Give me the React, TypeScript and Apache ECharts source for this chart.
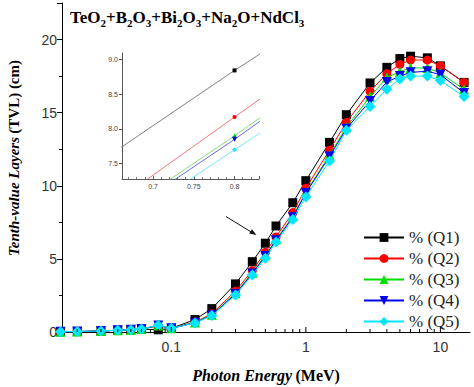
import React, { useEffect, useRef } from "react";
import * as echarts from "echarts";

const energies = [0.015, 0.02, 0.03, 0.04, 0.05, 0.06, 0.08, 0.1, 0.15, 0.2, 0.3, 0.4, 0.5, 0.6, 0.8, 1, 1.5, 2, 3, 4, 5, 6, 8, 10, 15];
const q1 = [0.02, 0.03, 0.07, 0.12, 0.15, 0.2, 0.15, 0.25, 0.85, 1.6, 3.29, 4.81, 6.07, 7.25, 8.84, 10.35, 12.97, 14.86, 17.03, 18.1, 18.7, 18.86, 18.75, 18.2, 17.07];
const q2 = [0.02, 0.03, 0.07, 0.12, 0.15, 0.2, 0.42, 0.25, 0.68, 1.25, 2.8, 4.2, 5.45, 6.5, 8.17, 9.83, 12.44, 14.34, 16.46, 17.67, 18.3, 18.6, 18.6, 18.2, 17.07];
const q3 = [0.02, 0.03, 0.07, 0.12, 0.15, 0.2, 0.44, 0.25, 0.65, 1.18, 2.65, 4.05, 5.25, 6.32, 7.9, 9.56, 12.1, 14.0, 16.1, 17.4, 17.8, 18.06, 18.06, 17.7, 16.6];
const q4 = [0.02, 0.03, 0.07, 0.12, 0.15, 0.2, 0.45, 0.25, 0.63, 1.15, 2.6, 4.0, 5.2, 6.27, 7.85, 9.51, 12.0, 13.9, 15.8, 17.1, 17.5, 17.76, 17.83, 17.6, 16.35];
const q5 = [0.02, 0.03, 0.07, 0.12, 0.15, 0.2, 0.47, 0.25, 0.62, 1.12, 2.53, 3.9, 5.05, 6.15, 7.7, 9.24, 11.7, 13.8, 15.43, 16.6, 17.3, 17.5, 17.5, 17.2, 16.1];

const seriesNames = ["% (Q1)", "% (Q2)", "% (Q3)", "% (Q4)", "% (Q5)"];
const seriesValues = [q1, q2, q3, q4, q5];
const seriesColors = ["#000000", "#ff0000", "#00dd00", "#0000ee", "#00e6ff"];
const insetColors = ["#808080", "#f07878", "#80e080", "#6a6ae6", "#7ae6f6"];
const insetMarkerColors = ["#000000", "#ff0000", "#00dd00", "#0000ee", "#33ddee"];
const symbols = ["rect", "circle", "triangle", "path://M0,0 L10,0 L5,9 Z", "diamond"];
const symbolSizes = [9, 9, 10, 10, 11];
const insetSymbolSizes = [4, 4, 5, 5, 5];

const xMajorTicks = [0.1, 1, 10];
const xMinorTicks = [0.02, 0.03, 0.04, 0.05, 0.06, 0.07, 0.08, 0.09, 0.2, 0.3, 0.4, 0.5, 0.6, 0.7, 0.8, 0.9, 2, 3, 4, 5, 6, 7, 8, 9];

const SERIF = "Liberation Serif";
const SANS = "Liberation Sans";

export default function App() {
  const ref = useRef<HTMLDivElement>(null);
  useEffect(() => {
    document.body.style.margin = "0";
    const chart = echarts.init(ref.current!, null, { renderer: "svg" });

    const mainSeries: any[] = seriesNames.map((name, i) => ({
      name,
      type: "line",
      xAxisIndex: 0,
      yAxisIndex: 0,
      data: energies.map((e, j) => [e, seriesValues[i][j]]),
      symbol: symbols[i],
      symbolSize: symbolSizes[i],
      showAllSymbol: true,
      clip: false,
      lineStyle: { color: seriesColors[i], width: 1 },
      itemStyle: { color: seriesColors[i] },
      z: 3 + i,
    }));

    const insetSeries: any[] = seriesNames.map((name, i) => ({
      name: "inset " + name,
      type: "line",
      xAxisIndex: 1,
      yAxisIndex: 1,
      data: energies.map((e, j) => [e, seriesValues[i][j]]),
      symbol: symbols[i],
      symbolSize: insetSymbolSizes[i],
      showAllSymbol: true,
      clip: true,
      lineStyle: { color: insetColors[i], width: 1 },
      itemStyle: { color: insetMarkerColors[i] },
      z: 3 + i,
    }));

    const tickSeries = (vals: number[], len: number) => ({
      type: "custom",
      xAxisIndex: 0,
      yAxisIndex: 0,
      silent: true,
      clip: false,
      z: 10,
      data: vals.map((v) => [v, 0]),
      renderItem: (params: any, api: any) => {
        const p = api.coord([api.value(0), 0]);
        return {
          type: "line",
          shape: { x1: p[0], y1: p[1], x2: p[0], y2: p[1] - len },
          style: { stroke: "#000", lineWidth: 1 },
        };
      },
    });

    const titleRich = {
      n: { fontFamily: SERIF, fontWeight: "bold", fontSize: 17, color: "#111", lineHeight: 22, verticalAlign: "middle" },
      s: { fontFamily: SERIF, fontWeight: "bold", fontSize: 11, color: "#111", lineHeight: 22, verticalAlign: "bottom" },
    };
    const sub = (t: string) => `{s|${t}}`;
    const nrm = (t: string) => `{n|${t}}`;
    const titleText =
      nrm("TeO") + sub("2") + nrm("+B") + sub("2") + nrm("O") + sub("3") + nrm("+Bi") + sub("2") + nrm("O") + sub("3") +
      nrm("+Na") + sub("2") + nrm("O+NdCl") + sub("3");

    const option: any = {
      animation: false,
      backgroundColor: "#ffffff",
      grid: [
        { left: 62, right: 4, top: 3, bottom: 55 },
        { left: 122, right: 215, top: 53, bottom: 208 },
      ],
      xAxis: [
        {
          type: "log",
          gridIndex: 0,
          logBase: 10,
          min: 0.0154,
          max: 16.6,
          axisLine: { lineStyle: { color: "#000", width: 1 } },
          axisTick: { show: false },
          minorTick: { show: false },
          splitLine: { show: false },
          axisLabel: {
            showMinLabel: false,
            showMaxLabel: false,
            fontFamily: SANS,
            fontSize: 14,
            color: "#333",
            margin: 8,
            formatter: (v: number) => String(v),
          },
        },
        {
          type: "value",
          gridIndex: 1,
          min: 0.662,
          max: 0.83,
          splitNumber: 3,
          axisLine: { lineStyle: { color: "#555", width: 1 } },
          axisTick: { show: true, inside: true, length: 3, lineStyle: { color: "#555" } },
          minorTick: { show: true, splitNumber: 5, length: 2, lineStyle: { color: "#777" } },
          splitLine: { show: false },
          axisLabel: {
            showMinLabel: false,
            showMaxLabel: false,
            fontFamily: SANS,
            fontSize: 7,
            color: "#444",
            margin: 4,
            formatter: (v: number) => String(Math.round(v * 100) / 100),
          },
        },
      ],
      yAxis: [
        {
          type: "value",
          gridIndex: 0,
          min: 0,
          max: 22.5,
          interval: 5,
          axisLine: { show: true, lineStyle: { color: "#000", width: 1 } },
          axisTick: { show: true, length: 5, lineStyle: { color: "#000" } },
          minorTick: { show: true, splitNumber: 2, length: 3, lineStyle: { color: "#000" } },
          splitLine: { show: false },
          axisLabel: { showMaxLabel: false, fontFamily: SANS, fontSize: 14, color: "#333", margin: 5 },
        },
        {
          type: "value",
          gridIndex: 1,
          min: 7.28,
          max: 9.09,
          splitNumber: 4,
          axisLine: { show: true, lineStyle: { color: "#555", width: 1 } },
          axisTick: { show: true, length: 3, lineStyle: { color: "#555" } },
          splitLine: { show: false },
          axisLabel: {
            showMinLabel: false,
            showMaxLabel: false,
            fontFamily: SANS,
            fontSize: 7,
            color: "#444",
            margin: 4,
            formatter: (v: number) => v.toFixed(1),
          },
        },
      ],
      legend: {
        data: seriesNames,
        orient: "vertical",
        left: 358,
        top: 224,
        itemWidth: 40,
        itemHeight: 11,
        itemGap: 4,
        textStyle: { fontFamily: SERIF, fontSize: 17, color: "#222" },
      },
      graphic: [
        {
          type: "text",
          left: 70,
          top: 9,
          style: { text: titleText, rich: titleRich },
        },
        {
          type: "text",
          x: 14,
          y: 158,
          rotation: Math.PI / 2,
          style: {
            text: "{i|Tenth-value Layers} {b|(TVL) (cm)}",
            align: "center",
            verticalAlign: "middle",
            rich: {
              i: { fontFamily: SERIF, fontWeight: "bold", fontStyle: "italic", fontSize: 15, color: "#111" },
              b: { fontFamily: SERIF, fontWeight: "bold", fontSize: 15, color: "#111" },
            },
          },
        },
        {
          type: "text",
          x: 266,
          y: 375,
          style: {
            text: "{i|Photon Energy} {b|(MeV)}",
            align: "center",
            verticalAlign: "middle",
            rich: {
              i: { fontFamily: SERIF, fontWeight: "bold", fontStyle: "italic", fontSize: 16, color: "#111" },
              b: { fontFamily: SERIF, fontWeight: "bold", fontSize: 16, color: "#111" },
            },
          },
        },
        {
          type: "line",
          shape: { x1: 226, y1: 216.5, x2: 252, y2: 232.5 },
          style: { stroke: "#111", lineWidth: 1 },
        },
        {
          type: "polygon",
          shape: { points: [[256.5, 235], [249.2, 233.4], [251.9, 229.2]] },
          style: { fill: "#111" },
        },
      ],
      series: [...mainSeries, ...insetSeries, tickSeries(xMajorTicks, 5), tickSeries(xMinorTicks, 3)],
    };

    chart.setOption(option);
    return () => chart.dispose();
  }, []);
  return <div ref={ref} style={{ width: 474, height: 387 }} />;
}
